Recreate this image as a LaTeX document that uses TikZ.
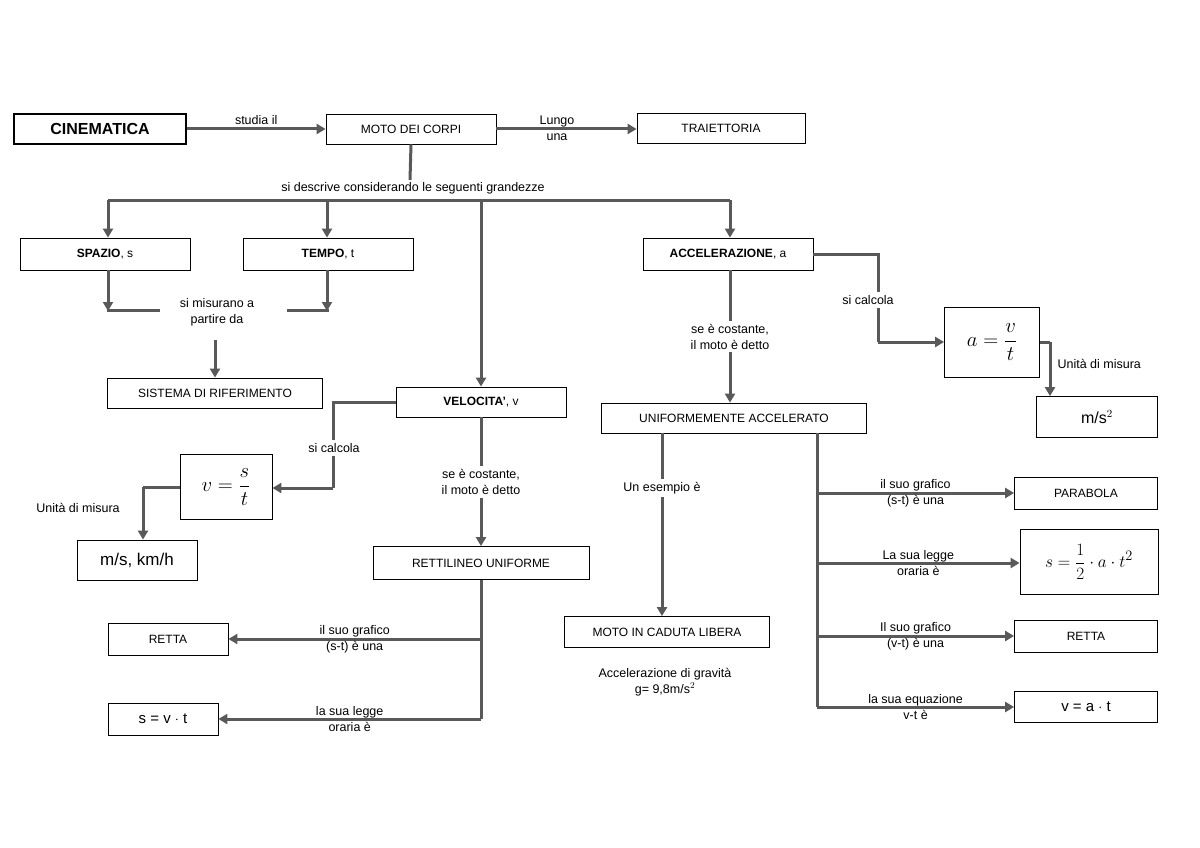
\documentclass[tikz,border=0pt]{standalone}
\usepackage{fontspec}
\setmainfont{Liberation Sans}
\usetikzlibrary{arrows.meta}
\begin{document}
\begin{tikzpicture}[x=1pt,y=-1pt,
  box/.style={draw,line width=0.8pt,inner sep=0pt,font=\fontsize{12}{14}\selectfont},
  ln/.style={draw=black!65,line width=3pt},
  ar/.style={ln,-{Triangle[length=9pt,width=10pt]}},
  lab/.style={font=\fontsize{12.5}{16}\selectfont,align=center}]
\useasboundingbox[fill=white] (0,0) rectangle (1200,848);
% boxes
\node[box,line width=1.6pt,minimum width=172,minimum height=30,font=\fontsize{16}{18}\selectfont\bfseries] (cin) at (100,129) {CINEMATICA};
\node[box,minimum width=170,minimum height=30] (moto) at (411,129) {MOTO DEI CORPI};
\node[box,minimum width=168,minimum height=30] (tra) at (721,128) {TRAIETTORIA};
\node[box,minimum width=170,minimum height=32] (spa) at (105,254) {\textbf{SPAZIO}, s};
\node[box,minimum width=170,minimum height=32] (tem) at (328,254) {\textbf{TEMPO}, t};
\node[box,minimum width=215,minimum height=30] (sis) at (215,393) {SISTEMA DI RIFERIMENTO};
\node[box,minimum width=170,minimum height=30] (vel) at (481,402) {\textbf{VELOCITA'}, v};
\node[box,minimum width=92,minimum height=65,font=\fontsize{20}{22}\selectfont] (vf) at (226,487) {$v=\displaystyle\frac{s}{t}$};
\node[box,minimum width=120,minimum height=40,font=\fontsize{17}{19}\selectfont] (ms) at (137,560) {m/s, km/h};
\node[box,minimum width=216,minimum height=33] (ret) at (481,563) {RETTILINEO UNIFORME};
\node[box,minimum width=120,minimum height=32] (r1) at (168,639) {RETTA};
\node[box,minimum width=110,minimum height=32,font=\fontsize{15}{17}\selectfont] (svt) at (163,719) {s = v $\cdot$ t};
\node[box,minimum width=170,minimum height=32] (acc) at (728,254) {\textbf{ACCELERAZIONE}, a};
\node[box,minimum width=95,minimum height=70,font=\fontsize{20}{22}\selectfont] (af) at (992,342) {$a=\displaystyle\frac{v}{t}$};
\node[box,minimum width=121,minimum height=41,font=\fontsize{16}{18}\selectfont] (ms2) at (1097,417) {m/s$^2$};
\node[box,minimum width=265,minimum height=30] (uni) at (734,418) {UNIFORMEMENTE ACCELERATO};
\node[box,minimum width=205,minimum height=31] (cad) at (667,632) {MOTO IN CADUTA LIBERA};
\node[box,minimum width=143,minimum height=32] (par) at (1086,493) {PARABOLA};
\node[box,minimum width=138,minimum height=65,font=\fontsize{19}{21}\selectfont] (sf) at (1089,562) {$s=\displaystyle\frac{1}{2}\cdot a\cdot t^2$};
\node[box,minimum width=143,minimum height=32] (r2) at (1086,636) {RETTA};
\node[box,minimum width=143,minimum height=31,font=\fontsize{15}{17}\selectfont] (vat) at (1086,707) {v = a $\cdot$ t};
% coordinates
\coordinate (hl) at (108,200);
\coordinate (hr) at (730,200);
% connectors top
\draw[ar] (cin.east) -- node[lab,above=0pt]{studia il} (moto.west |- cin.east);
\draw[ar] (moto.east) -- (tra.west |- moto.east);
\node[lab] (lu) at (557,128) {Lungo\\una};
\draw[ln] (moto.south) -- (410,180);
\node[lab] (sd) at (413,188) {si descrive considerando le seguenti grandezze};
\draw[ln] (hl) -- (hr);
\draw[ar] (hl) -- (spa.north -| hl);
\draw[ar] (327,200) -- (tem.north -| 327,0);
\draw[ar] (481,200) -- (vel.north);
\draw[ar] (hr) -- (acc.north -| hr);
% spazio/tempo
\draw[ar] (spa.south -| 108,0) -- (108,311);
\draw[ln] (106.5,310) -- (160,310);
\draw[ar] (tem.south -| 327,0) -- (327,311);
\draw[ln] (287,310) -- (328.5,310);
\node[lab] (mis) at (217,312) {si misurano a\\partire da};
\draw[ar] (215,340) -- (sis.north -| 215,0);
% velocita
\draw[ln] (vel.west) -- (333,402) -- (333,488);
\draw[ar] (333,488) -- (vf.east |- 333,488);
\node[lab,fill=white] (sc1) at (334,448) {si calcola};
\draw[ln] (vf.west) -- (143,487);
\draw[ar] (143,487) -- (ms.north -| 143,0);
\node[lab] (um1) at (78,508) {Unità di misura};
\draw[ar] (vel.south) -- node[lab,fill=white,pos=0.5]{se è costante,\\il moto è detto} (ret.north);
\draw[ln] (ret.south) -- (481,719);
\draw[ar] (481,639) -- node[lab,pos=0.5]{il suo grafico\\(s-t) è una} (r1.east);
\draw[ar] (481,719) -- node[lab,pos=0.5]{la sua legge\\oraria è} (svt.east);
% accelerazione
\draw[ln] (acc.east) -- (878,254) -- (878,342);
\draw[ar] (878,342) -- (af.west);
\node[lab,fill=white] (sc2) at (868,300) {si calcola};
\draw[ln] (af.east) -- (1050,342);
\draw[ar] (1050,342) -- (ms2.north -| 1050,0);
\node[lab,anchor=west] (um2) at (1054,364) {Unità di misura};
\draw[ar] (acc.south -| 730,0) -- node[lab,fill=white,pos=0.5]{se è costante,\\il moto è detto} (uni.north -| 730,0);
\draw[ar] (uni.south -| 662,0) -- node[lab,fill=white,pos=0.3]{Un esempio è} (cad.north -| 662,0);
\node[lab] (grav) at (665,682) {Accelerazione di gravità\\g= 9,8m/s$^2$};
\draw[ln] (uni.south -| 817,0) -- (817,707);
\draw[ar] (817,493) -- node[lab,pos=0.5]{il suo grafico\\(s-t) è una} (par.west);
\draw[ar] (817,563) -- node[lab,pos=0.5]{La sua legge\\oraria è} (sf.west |- 817,563);
\draw[ar] (817,636) -- node[lab,pos=0.5]{Il suo grafico\\(v-t) è una} (r2.west);
\draw[ar] (817,707) -- node[lab,pos=0.5]{la sua equazione\\v-t è} (vat.west);
\end{tikzpicture}
\end{document}
